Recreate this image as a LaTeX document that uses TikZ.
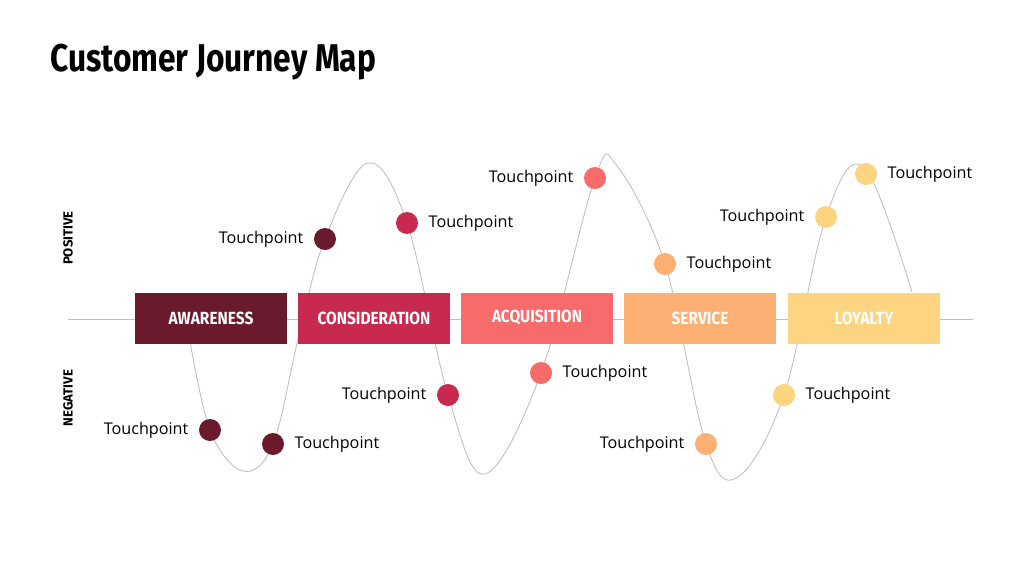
\documentclass[tikz,border=0pt]{standalone}
\usepackage{fontspec}
\setmainfont{Open Sans}
\newfontfamily\headfont{Fira Sans}
\usetikzlibrary{positioning}
\definecolor{cAware}{HTML}{6B1A2E}
\definecolor{cConsid}{HTML}{C8294F}
\definecolor{cAcq}{HTML}{F76B6B}
\definecolor{cServ}{HTML}{FDB073}
\definecolor{cLoyal}{HTML}{FDD47F}
\tikzset{
  stagebox/.style = {fill = #1, minimum width = 3.04cm, minimum height = 1.02cm,
                     inner sep = 0, text = white,
                     font = \headfont\bfseries\fontsize{10}{12}\selectfont},
  tpoint/.style = {circle, fill = #1, minimum size = 0.44cm, inner sep = 0},
  tlabel/.style = {font = \fontsize{9.2}{11}\selectfont, inner sep = 0},
  sidelabel/.style = {rotate = 90, font = \headfont\bfseries\fontsize{7.5}{9}\selectfont},
  wave/.style = {draw = black!25, line width = 0.5pt},
}
\begin{document}
\begin{tikzpicture}[x=0.02cm, y=-0.02cm]
\useasboundingbox (0,0) rectangle (1024,576);
\node[anchor=west, inner sep=0] (title) at (50,62)
  {\headfont\bfseries\scalebox{0.82}[1]{\fontsize{22}{26}\selectfont Customer Journey Map}};
% axis and wave
\coordinate (axl) at (68,319);
\coordinate (axr) at (973,319);
\draw[wave] (axl) -- (axr);
\draw[wave] plot[smooth, tension=0.6] coordinates {(188,330) (210,430) (243,471) (273,444)
  (299,335) (325,239) (368,163) (407,223) (448,395) (485,474) (541,373) (595,178)
  (617,166) (665,264) (706,444) (738,477) (784,395) (826,217) (864,167) (912,292)};
% stages
\node[stagebox=cAware]  (aware)  at (211,318) {\scalebox{0.88}[1]{AWARENESS}};
\node[stagebox=cConsid] (consid) at (374,318) {\scalebox{0.88}[1]{CONSIDERATION}};
\node[stagebox=cAcq]    (acq)    at (537,318) {\scalebox{0.88}[1]{ACQUISITION}};
\node[stagebox=cServ]   (serv)   at (700,318) {\scalebox{0.88}[1]{SERVICE}};
\node[stagebox=cLoyal]  (loyal)  at (864,318) {\scalebox{0.88}[1]{LOYALTY}};
\node[sidelabel] (pos) at (68,238) {POSITIVE};
\node[sidelabel] (neg) at (68,398) {NEGATIVE};
% touchpoints
\foreach \x/\y/\c/\s [count=\i] in {210/430/cAware/left, 273/444/cAware/right,
    325/239/cAware/left, 407/223/cConsid/right, 448/395/cConsid/left,
    541/373/cAcq/right, 595/178/cAcq/left, 665/264/cServ/right,
    706/444/cServ/left, 784/395/cLoyal/right, 826/217/cLoyal/left,
    866/174/cLoyal/right}
  \node[tpoint=\c] (tp\i) at (\x,\y) {}
    node[tlabel, \s=0.2cm of tp\i] (tl\i) {Touchpoint};
\end{tikzpicture}
\end{document}
